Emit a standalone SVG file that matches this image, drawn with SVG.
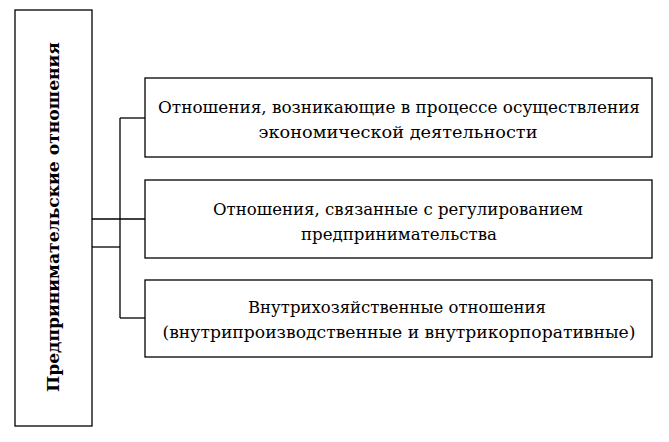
<svg xmlns="http://www.w3.org/2000/svg" width="669" height="442" viewBox="0 0 669 442">
<style>
rect{fill:#fff;stroke:#000;stroke-width:1.3}
text{font-family:"DejaVu Serif","Liberation Serif",serif;font-size:17px;fill:#000;text-anchor:middle}
.c line{stroke:#000;stroke-width:1.3}
</style>
<rect x="0" y="0" width="669" height="442" style="stroke:none"/>
<g id="main"><rect x="15" y="10" width="77" height="416"/>
<text transform="translate(59,217) rotate(-90)" font-weight="bold" textLength="350" lengthAdjust="spacingAndGlyphs">Предпринимательские отношения</text></g>
<g id="n1"><rect x="145" y="78" width="507" height="79"/>
<text x="399" y="113" textLength="482" lengthAdjust="spacingAndGlyphs">Отношения, возникающие в процессе осуществления</text>
<text x="398" y="138" textLength="279" lengthAdjust="spacingAndGlyphs">экономической деятельности</text></g>
<g id="n2"><rect x="145" y="180" width="507" height="78"/>
<text x="398" y="215" textLength="370" lengthAdjust="spacingAndGlyphs">Отношения, связанные с регулированием</text>
<text x="399" y="240" textLength="196" lengthAdjust="spacingAndGlyphs">предпринимательства</text></g>
<g id="n3"><rect x="145" y="280" width="507" height="77"/>
<text x="397" y="313" textLength="298" lengthAdjust="spacingAndGlyphs">Внутрихозяйственные отношения</text>
<text x="399" y="338" textLength="473" lengthAdjust="spacingAndGlyphs">(внутрипроизводственные и внутрикорпоративные)</text></g>
<g class="c">
<line x1="120" y1="118" x2="120" y2="318"/>
<line x1="120" y1="118" x2="145" y2="118"/>
<line x1="92" y1="219" x2="145" y2="219"/>
<line x1="120" y1="318" x2="145" y2="318"/>
<line x1="92" y1="247" x2="120" y2="247"/>
</g>
</svg>
